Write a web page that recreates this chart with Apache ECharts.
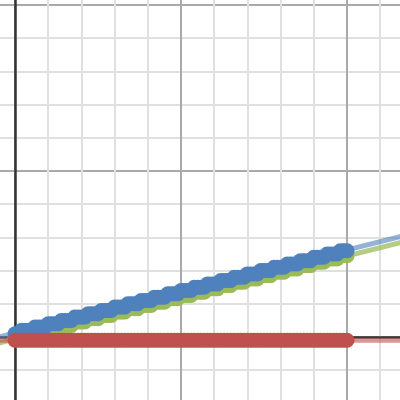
<!DOCTYPE html>
<html>
<head>
<meta charset="utf-8">
<script src="https://cdn.jsdelivr.net/npm/echarts@6/dist/echarts.min.js"></script>
<style>
html,body{margin:0;padding:0;background:#fff;width:400px;height:400px;overflow:hidden;position:relative;}
#c{position:absolute;left:-151px;top:-161px;width:664px;height:664px;}
</style>
</head>
<body>
<div id="c"></div>
<script>
// Data
var xs = [0,0.1,0.2,0.3,0.4,0.5,0.6,0.7,0.8,0.9,
  1,1.1,1.2,1.3,1.4,1.5,1.6,1.7,1.8,1.9,
  2,2.1,2.2,2.3,2.4,2.5,2.6,2.7,2.8,2.9,
  3,3.1,3.2,3.3,3.4,3.5,3.6,3.7,3.8,3.9,
  4,4.1,4.2,4.3,4.4,4.5,4.6,4.7,4.8,4.9,
  5,5.1,5.2,5.3,5.4,5.5,5.6,5.7,5.8,5.9,
  6,6.1,6.2,6.3,6.4,6.5,6.6,6.7,6.8,6.9,
  7,7.1,7.2,7.3,7.4,7.5,7.6,7.7,7.8,7.9,
  8,8.1,8.2,8.3,8.4,8.5,8.6,8.7,8.8,8.9,
  9,9.1,9.2,9.3,9.4,9.5,9.6,9.7,9.8,9.9,
  10];
var blueY = [0.1,0.1,
  0.2,0.2,0.2,0.2, 0.3,0.3,0.3,0.3, 0.4,0.4,0.4,0.4, 0.5,0.5,0.5,0.5,
  0.6,0.6,0.6,0.6, 0.7,0.7,0.7,0.7, 0.8,0.8,0.8,0.8, 0.9,0.9,0.9,0.9,
  1.0,1.0,1.0,1.0, 1.1,1.1,1.1,1.1, 1.2,1.2,1.2,1.2, 1.3,1.3,1.3,1.3,
  1.4,1.4,1.4,1.4, 1.5,1.5,1.5,1.5, 1.6,1.6,1.6,1.6, 1.7,1.7,1.7,1.7,
  1.8,1.8,1.8,1.8, 1.9,1.9,1.9,1.9, 2.0,2.0,2.0,2.0, 2.1,2.1,2.1,2.1,
  2.2,2.2,2.2,2.2, 2.3,2.3,2.3,2.3, 2.4,2.4,2.4,2.4, 2.5,2.5,2.5,2.5,
  2.6,2.6,2.6];
var greenY = [-0.05,-0.05,
  0.05,0.05,0.05,0.05, 0.15,0.15,0.15,0.15, 0.25,0.25,0.25,0.25, 0.35,0.35,0.35,0.35,
  0.45,0.45,0.45,0.45, 0.55,0.55,0.55,0.55, 0.65,0.65,0.65,0.65, 0.75,0.75,0.75,0.75,
  0.85,0.85,0.85,0.85, 0.95,0.95,0.95,0.95, 1.05,1.05,1.05,1.05, 1.15,1.15,1.15,1.15,
  1.25,1.25,1.25,1.25, 1.35,1.35,1.35,1.35, 1.45,1.45,1.45,1.45, 1.55,1.55,1.55,1.55,
  1.65,1.65,1.65,1.65, 1.75,1.75,1.75,1.75, 1.85,1.85,1.85,1.85, 1.95,1.95,1.95,1.95,
  2.05,2.05,2.05,2.05, 2.15,2.15,2.15,2.15, 2.25,2.25,2.25,2.25, 2.35,2.35,2.35,2.35,
  2.45,2.45,2.45];
var redY = [-0.1,-0.1,-0.1,-0.1,-0.1,-0.1,-0.1,-0.1,-0.1,-0.1,
  -0.1,-0.1,-0.1,-0.1,-0.1,-0.1,-0.1,-0.1,-0.1,-0.1,
  -0.1,-0.1,-0.1,-0.1,-0.1,-0.1,-0.1,-0.1,-0.1,-0.1,
  -0.1,-0.1,-0.1,-0.1,-0.1,-0.1,-0.1,-0.1,-0.1,-0.1,
  -0.1,-0.1,-0.1,-0.1,-0.1,-0.1,-0.1,-0.1,-0.1,-0.1,
  -0.1,-0.1,-0.1,-0.1,-0.1,-0.1,-0.1,-0.1,-0.1,-0.1,
  -0.1,-0.1,-0.1,-0.1,-0.1,-0.1,-0.1,-0.1,-0.1,-0.1,
  -0.1,-0.1,-0.1,-0.1,-0.1,-0.1,-0.1,-0.1,-0.1,-0.1,
  -0.1,-0.1,-0.1,-0.1,-0.1,-0.1,-0.1,-0.1,-0.1,-0.1,
  -0.1,-0.1,-0.1,-0.1,-0.1,-0.1,-0.1,-0.1,-0.1,-0.1,
  -0.1];
// trend lines (ends beyond view limits)
var trendX = [-5, 15];
var blueTrend = [-1.13, 3.87];
var greenTrend = [-1.31, 3.69];
var redTrend = [-0.1, -0.1];

function pairs(a, b) { return a.map(function (v, i) { return [v, b[i]]; }); }

var chart = echarts.init(document.getElementById('c'), null, {renderer: 'canvas', width: 664, height: 664});
var axisCommon = {
  type: 'value', min: -5, max: 15, interval: 5,
  axisLabel: {show: false}, axisTick: {show: false},
  axisLine: {show: true, onZero: true, lineStyle: {color: '#333', width: 2.5}},
  splitLine: {show: true, lineStyle: {color: '#a9a9a9', width: 2}},
  minorTick: {show: false, splitNumber: 5},
  minorSplitLine: {show: true, lineStyle: {color: '#e0e0e0', width: 2}}
};
chart.setOption({
  animation: false,
  backgroundColor: '#fff',
  grid: {left: 0, right: 0, top: 0, bottom: 0, containLabel: false},
  xAxis: Object.assign({}, axisCommon),
  yAxis: Object.assign({}, axisCommon),
  series: [
    {type: 'line', data: pairs(trendX, greenTrend), symbol: 'none', z: 2,
     lineStyle: {color: '#9bbb59', width: 5, opacity: 0.75}},
    {type: 'line', data: pairs(trendX, blueTrend), symbol: 'none', z: 2,
     lineStyle: {color: '#4f81bd', width: 5, opacity: 0.6}},
    {type: 'line', data: pairs(trendX, redTrend), symbol: 'none', z: 2,
     lineStyle: {color: '#c0504d', width: 5, opacity: 0.6}},
    {type: 'scatter', data: pairs(xs, greenY), symbol: 'circle', symbolSize: 15, z: 3,
     large: false, itemStyle: {color: '#9bbb59', opacity: 1}},
    {type: 'scatter', data: pairs(xs, blueY), symbol: 'circle', symbolSize: 15, z: 4,
     large: false, itemStyle: {color: '#4f81bd', opacity: 1}},
    {type: 'scatter', data: pairs(xs, redY), symbol: 'circle', symbolSize: 15, z: 5,
     large: false, itemStyle: {color: '#c0504d', opacity: 1}}
  ]
});
</script>
</body>
</html>
